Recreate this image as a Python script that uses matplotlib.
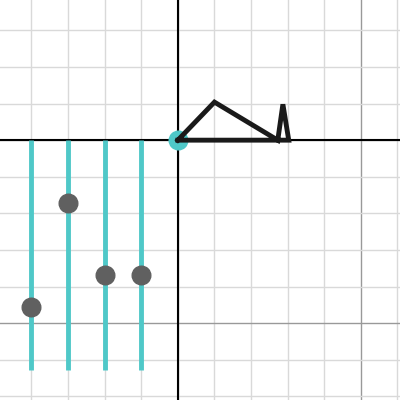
import numpy as np
import matplotlib.pyplot as plt

# segment positions and point values
seg_x = [-4, -3, -2, -1]
seg_bottom = -6.28
dot_y = [-4.56, -1.72, -3.69, -3.69]

# black outline
shape_x = [0, 1.0, 2.73, 2.87, 3.03, 0]
shape_y = [0, 1.04, 0, 0.98, 0, 0]

xmin, xmax = -4.86, 6.07
ymin, ymax = -7.1, 3.83

fig = plt.figure(figsize=(4, 4), dpi=100)
ax = fig.add_axes([0, 0, 1, 1])
ax.set_xlim(xmin, xmax)
ax.set_ylim(ymin, ymax)

for v in range(-4, 7):
    ax.axvline(v, color='#999999' if v % 5 == 0 else '#d9d9d9', lw=1, zorder=0)
for v in range(-7, 4):
    ax.axhline(v, color='#999999' if v % 5 == 0 else '#d9d9d9', lw=1, zorder=0)
ax.axvline(0, color='black', lw=1.5, zorder=1)
ax.axhline(0, color='black', lw=1.5, zorder=1)

for x in seg_x:
    ax.plot([x, x], [0, seg_bottom], color='#4fc8c8', lw=3.5, solid_capstyle='butt', zorder=2)
ax.scatter(seg_x, dot_y, s=180, color='#606060', zorder=3)

ax.plot(shape_x, shape_y, color='#1a1a1a', lw=3.5, solid_joinstyle='miter', zorder=4)
ax.scatter([0], [0], s=180, color='#4fc8c8', zorder=3)

ax.set_xticks([])
ax.set_yticks([])
for s in ax.spines.values():
    s.set_visible(False)

fig.savefig('out.png', dpi=100)
